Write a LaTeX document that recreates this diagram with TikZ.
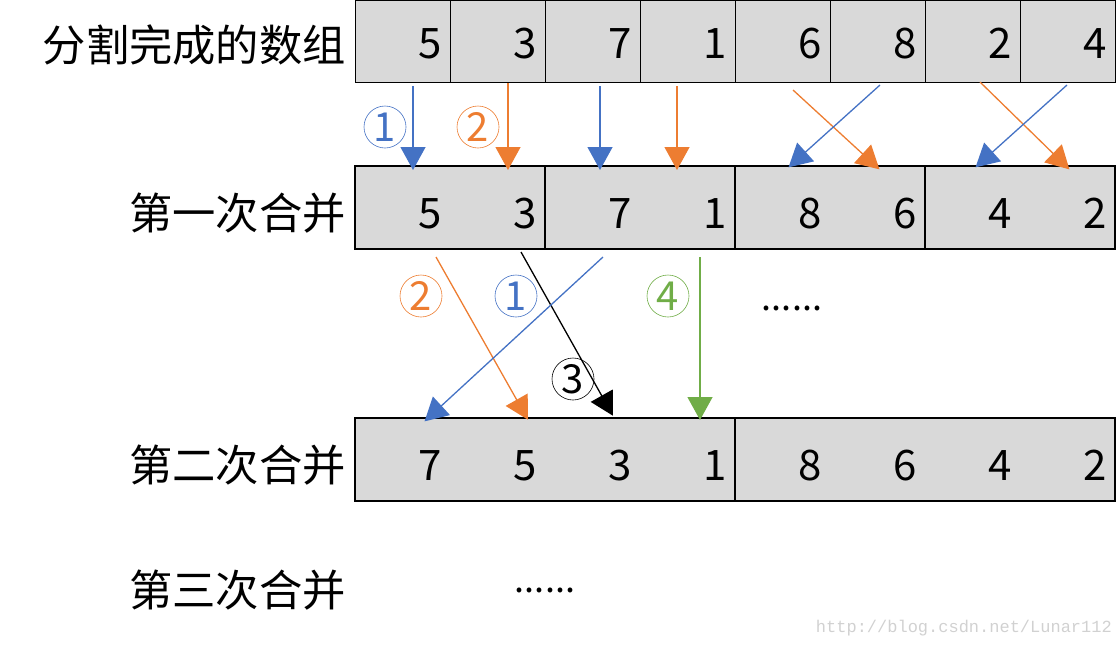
\documentclass[tikz,border=0pt]{standalone}
\usepackage{fontspec}
\setmainfont{Noto Sans CJK SC}
\newfontfamily\wmfont{Liberation Mono}
\usetikzlibrary{arrows.meta}
\definecolor{cblue}{HTML}{4472C4}
\definecolor{corange}{HTML}{ED7D31}
\definecolor{cgreen}{HTML}{70AD47}
\definecolor{cellgray}{HTML}{D9D9D9}
\tikzset{
  big/.style={font=\fontsize{42}{44}\selectfont},
  lbl/.style={font=\fontsize{43.3}{45}\selectfont, anchor=base east, inner sep=0pt},
  num/.style={big, anchor=base east, inner sep=0pt},
  cellthin/.style={draw=black, line width=1pt, fill=cellgray},
  cellthick/.style={draw=black, line width=2.2pt, fill=cellgray},
  arr/.style={line width=1.3pt, -{Triangle[length=23pt,width=25pt]}, shorten >=-2pt},
  circ/.style={circle, draw, line width=0.6pt, minimum size=42pt, inner sep=0pt, font=\fontsize{40}{42}\selectfont},
  dots/.style={font=\fontsize{36}{38}\selectfont, inner sep=0pt, anchor=base}
}
\begin{document}
\begin{tikzpicture}[x=1pt,y=-1pt]
\useasboundingbox (0,0) rectangle (1117,649);
% row 1
\foreach \i in {0,...,7}{
  \draw[cellthin] (355+95*\i,0) rectangle (450+95*\i,82);
}
\foreach \i/\v in {0/5,1/3,2/7,3/1,4/6,5/8,6/2,7/4}{
  \node[num] (a\i) at (442+95*\i,58) {\v};
}
% row 2
\foreach \i in {0,1,2,3}{
  \draw[cellthick] (355+190*\i,166) rectangle (545+190*\i,249);
}
\foreach \i/\v in {0/5,1/3,2/7,3/1,4/8,5/6,6/4,7/2}{
  \node[num] (b\i) at (442+95*\i,228) {\v};
}
% row 3
\foreach \i in {0,1}{
  \draw[cellthick] (355+380*\i,418) rectangle (735+380*\i,501);
}
\foreach \i/\v in {0/7,1/5,2/3,3/1,4/8,5/6,6/4,7/2}{
  \node[num] (c\i) at (442+95*\i,480) {\v};
}
% labels
\node[lbl] (l1) at (346,61) {分割完成的数组};
\node[lbl] (l2) at (346,229) {第一次合并};
\node[lbl] (l3) at (346,481) {第二次合并};
\node[lbl] (l4) at (346,606) {第三次合并};
% coordinates for arrows row1->row2
\coordinate (s1) at (413,86);  \coordinate (t1) at (413,168);
\coordinate (s2) at (508,83);  \coordinate (t2) at (508,168);
\coordinate (s3) at (600,86);  \coordinate (t3) at (600,168);
\coordinate (s4) at (677,86);  \coordinate (t4) at (677,168);
\coordinate (s5) at (793,90);  \coordinate (t5) at (878,168);
\coordinate (s6) at (880,85);  \coordinate (t6) at (790,166);
\coordinate (s7) at (980,82);  \coordinate (t7) at (1068,168);
\coordinate (s8) at (1067,85); \coordinate (t8) at (977,166);
\draw[arr, cblue] (s1) -- (t1);
\draw[arr, corange] (s2) -- (t2);
\draw[arr, cblue] (s3) -- (t3);
\draw[arr, corange] (s4) -- (t4);
\draw[arr, corange] (s5) -- (t5);
\draw[arr, cblue] (s6) -- (t6);
\draw[arr, corange] (s7) -- (t7);
\draw[arr, cblue] (s8) -- (t8);
\node[circ, cblue] (k1) at (385,127) {1};
\node[circ, corange] (k2) at (478,127) {2};
% row2 -> row3
\coordinate (u1) at (436,257); \coordinate (v1) at (527,418);
\coordinate (u2) at (521,252); \coordinate (v2) at (612,414);
\coordinate (u3) at (603,257); \coordinate (v3) at (426,420);
\coordinate (u4) at (700,257); \coordinate (v4) at (700,418);
\draw[arr, corange] (u1) -- (v1);
\draw[arr, black] (u2) -- (v2);
\draw[arr, cblue] (u3) -- (v3);
\draw[arr, cgreen] (u4) -- (v4);
\node[circ, corange] (m2) at (421,296) {2};
\node[circ, cblue] (m1) at (516,296) {1};
\node[circ, black] (m3) at (573,379) {3};
\node[circ, cgreen] (m4) at (668,296) {4};
\node[dots] (d1) at (792,310) {......};
\node[dots] (d2) at (545,592) {......};
\node[font=\wmfont\fontsize{17}{18}\selectfont, text=black!18, anchor=east, inner sep=0pt] (wm) at (1112,628) {http://blog.csdn.net/Lunar112};
\end{tikzpicture}
\end{document}
